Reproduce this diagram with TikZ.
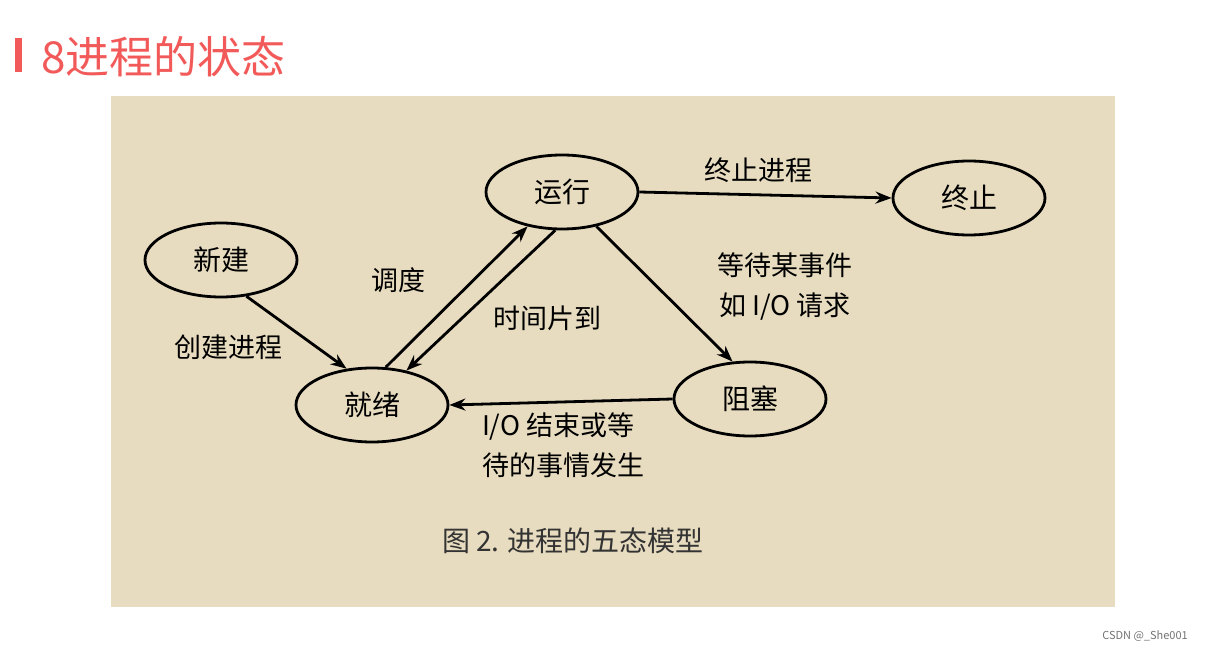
\documentclass[tikz,border=0pt]{standalone}
\usepackage{fontspec}
\setmainfont{Noto Sans CJK SC}
\usetikzlibrary{arrows.meta,shapes.geometric}
\definecolor{bg}{HTML}{E7DCBF}
\definecolor{ttl}{HTML}{F25A5A}
\tikzset{x=1pt,y=-1pt,
 st/.style={draw,line width=2.8pt,ellipse,minimum width=152pt,minimum height=74pt,font=\fontsize{28}{30}\selectfont},
 ar/.style={line width=2.8pt,-{Stealth[length=16pt,width=12pt]}},
 lb/.style={font=\fontsize{27}{40}\selectfont,align=center}}
\begin{document}
\begin{tikzpicture}
\useasboundingbox (0,0) rectangle (1211,652);
\fill[ttl] (15,38) rectangle (22,72);
\node[anchor=west,text=ttl,font=\fontsize{44}{46}\selectfont] (title) at (38,57) {8进程的状态};
\fill[bg] (111,96) rectangle (1115,607);
\node[st] (run) at (562,192) {运行};
\node[st] (end) at (969,198) {终止};
\node[st] (new) at (221,260) {新建};
\node[st] (rdy) at (372,405) {就绪};
\node[st] (blk) at (750,399) {阻塞};
\draw[ar] (run.east) -- (end.west);
\draw[ar] (new.-55) -- (rdy.125);
\draw[ar] (rdy.70) -- (run.-135);
\draw[ar] (run.-100) -- (rdy.45);
\draw[ar] (run.-45) -- (blk.115);
\draw[ar] (blk.west) -- (rdy.east);
\node[lb] (l1) at (758,170) {终止进程};
\node[lb] (l2) at (228,347) {创建进程};
\node[lb] (l3) at (398,280) {调度};
\node[lb] (l4) at (547,318) {时间片到};
\node[lb] (l5) at (785,287) {等待某事件\\如 I/O 请求};
\node[lb,align=left] (l6) at (563,445) {I/O 结束或等\\待的事情发生};
\node[font=\fontsize{28}{30}\selectfont,text=black!80] (cap) at (573,541) {图 2. 进程的五态模型};
\node[font=\fontsize{11}{12}\selectfont,text=black!55] (csdn) at (1145,636) {CSDN @\_She001};
\end{tikzpicture}
\end{document}
